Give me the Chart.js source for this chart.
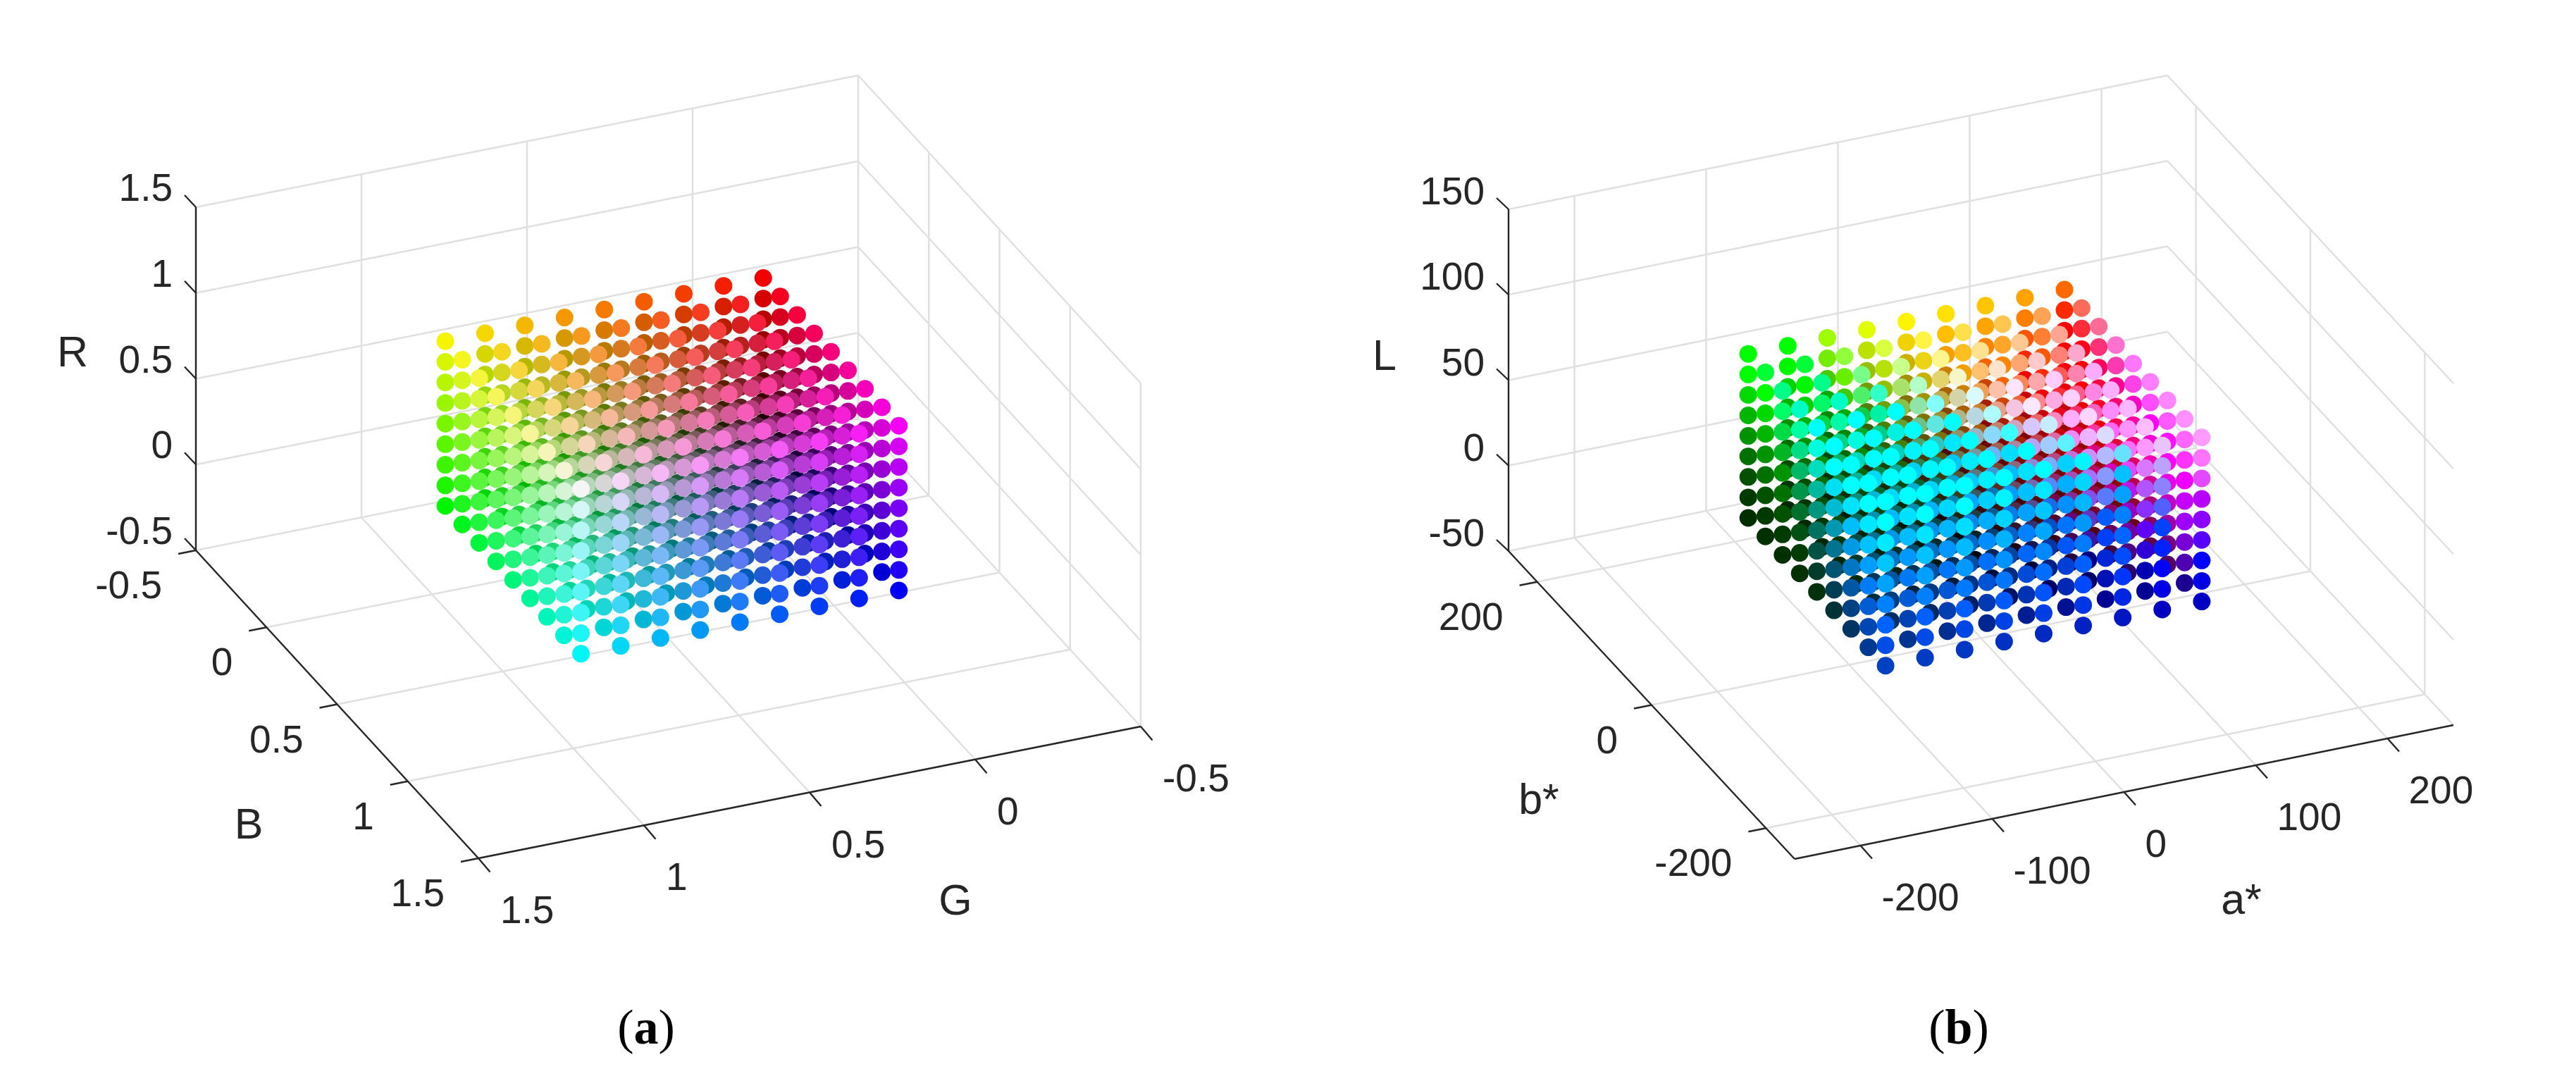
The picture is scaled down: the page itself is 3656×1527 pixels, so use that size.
<!DOCTYPE html>
<html>
<head>
<meta charset="utf-8">
<script src="https://cdn.jsdelivr.net/npm/chart.js@4/dist/chart.umd.min.js"></script>
<style>
html,body{margin:0;padding:0;background:#fff;width:3656px;height:1527px;overflow:hidden}
canvas{position:absolute;top:0}
.cap{position:absolute;top:1414px;font-family:"Liberation Serif",serif;font-size:70px;line-height:88px;color:#000;transform:translateX(-50%);white-space:nowrap}
</style>
</head>
<body>
<canvas id="panelA" width="1828" height="1527" style="left:0"></canvas>
<canvas id="panelB" width="1828" height="1527" style="left:1828px"></canvas>
<div class="cap" style="left:917px">(<b>a</b>)</div>
<div class="cap" style="left:2780px">(<b>b</b>)</div>
<script>
// ---- data ----
const rgbLevels = [0, 0.12, 0.24, 0.36, 0.48, 0.6, 0.72, 0.84, 0.96];
const labLLevels = [0, 12, 24, 36, 48, 60, 72, 84, 96];
const labALevels = [-128, -98, -68, -38, -8, 22, 52, 82, 112];
const labBLevels = [-128, -98, -68, -38, -8, 22, 52, 82, 112];

const rgbRTicks = [-0.5, 0, 0.5, 1, 1.5];
const rgbRLabels = ['-0.5', '0', '0.5', '1', '1.5'];
const rgbGTicks = [-0.5, 0, 0.5, 1, 1.5];
const rgbGLabels = ['-0.5', '0', '0.5', '1', '1.5'];
const rgbBTicks = [-0.5, 0, 0.5, 1, 1.5];
const rgbBLabels = ['-0.5', '0', '0.5', '1', '1.5'];

const labLTicks = [-50, 0, 50, 100, 150];
const labLLabels = ['-50', '0', '50', '100', '150'];
const labATicks = [-200, -100, 0, 100, 200];
const labALabels = ['-200', '-100', '0', '100', '200'];
const labBTicks = [-200, 0, 200];
const labBLabels = ['-200', '0', '200'];

// ---- colours ----
const GRID = '#e0e0e0', INK = '#262626', FONT = '"Liberation Sans", Arial, sans-serif';
function rgbCss(r, g, b) { return `rgb(${Math.round(r*255)},${Math.round(g*255)},${Math.round(b*255)})`; }
function labToCss(L, a, b) {
  const fy = (L + 16) / 116, fx = fy + a / 500, fz = fy - b / 200;
  const inv = t => t > 6/29 ? t*t*t : 3*(6/29)*(6/29)*(t - 4/29);
  const X = 0.95047*inv(fx), Y = inv(fy), Z = 1.08883*inv(fz);
  const lin = [3.2406*X - 1.5372*Y - 0.4986*Z, -0.9689*X + 1.8758*Y + 0.0415*Z, 0.0557*X - 0.2040*Y + 1.0570*Z];
  const c = lin.map(v => { v = Math.min(1, Math.max(0, v)); return v <= 0.0031308 ? 12.92*v : 1.055*Math.pow(v, 1/2.4) - 0.055; });
  return rgbCss(c[0], c[1], c[2]);
}

// ---- view geometry of each 3-D box (positions in panel units) ----
const views = {
  a: { offset: 0, left: [278, 781], front: [679, 1218], right: [1619, 1031], height: 487,
       xi: v => (1.5 - v) / 2, eta: v => (1.5 - v) / 2, zeta: v => (v + 0.5) / 2,
       xTick: [16.5, 19.5], yTick: [-25, 5], zTick: [-16, -17],
       xLab: [31, 77], yLab: [-48, 53], zLab: [-33, -24] },
  b: { offset: 1828, left: [2141, 782], front: [2547, 1219], right: [3482, 1029], height: 485,
       xi: v => (v + 250) / 500, eta: v => (v + 250) / 500, zeta: v => (v + 50) / 200,
       xTick: [16.5, 18.5], yTick: [-25, 5], zTick: [-17, -16],
       xLab: [30, 77], yLab: [-48, 53], zLab: [-34, -22] }
};
function place(view, xi, eta, zeta) {
  return {
    x: view.front[0] - view.offset + xi*(view.right[0]-view.front[0]) + eta*(view.left[0]-view.front[0]),
    y: view.front[1] + xi*(view.right[1]-view.front[1]) + eta*(view.left[1]-view.front[1]) - zeta*view.height
  };
}
const GAP = { x: NaN, y: NaN };

function buildPoints(view, xs, ys, zs, colour) {
  const pts = [];
  for (const z of zs) for (const y of ys) for (const x of xs) {
    const xi = view.xi(x), eta = view.eta(y), zeta = view.zeta(z);
    pts.push({ p: place(view, xi, eta, zeta), c: colour(x, y, z),
               d: (1 - xi) * 1 + (1 - eta) * 2.344 + zeta * 2.487 });
  }
  pts.sort((m, n) => m.d - n.d);
  return pts;
}

function buildGrid(view, xT, yT, zT) {
  const out = [];
  const seg = (a, b) => out.push(a, b, GAP);
  for (const z of zT) {
    const t = view.zeta(z);
    seg(place(view, 0, 1, t), place(view, 1, 1, t));
    seg(place(view, 1, 1, t), place(view, 1, 0, t));
  }
  for (const x of xT) {
    const t = view.xi(x);
    seg(place(view, t, 1, 0), place(view, t, 1, 1));
    seg(place(view, t, 1, 0), place(view, t, 0, 0));
  }
  for (const y of yT) {
    const t = view.eta(y);
    seg(place(view, 1, t, 0), place(view, 1, t, 1));
    seg(place(view, 1, t, 0), place(view, 0, t, 0));
  }
  return out;
}

function buildAxes(view, xT, yT, zT) {
  const out = [];
  const seg = (a, b) => out.push(a, b, GAP);
  const tick = (p, v) => seg(p, { x: p.x + v[0], y: p.y + v[1] });
  seg(place(view, 0, 1, 0), place(view, 0, 1, 1));
  seg(place(view, 0, 0, 0), place(view, 0, 1, 0));
  seg(place(view, 0, 0, 0), place(view, 1, 0, 0));
  for (const z of zT) tick(place(view, 0, 1, view.zeta(z)), view.zTick);
  for (const y of yT) tick(place(view, 0, view.eta(y), 0), view.yTick);
  for (const x of xT) tick(place(view, view.xi(x), 0, 0), view.xTick);
  return out;
}

function labelsPlugin(view, spec) {
  return {
    id: 'axisText',
    afterDraw(chart) {
      const { ctx, scales } = chart;
      const put = (txt, p, dx, dy, align, size) => {
        ctx.font = `${size}px ${FONT}`;
        ctx.fillStyle = INK;
        ctx.textAlign = align;
        ctx.textBaseline = 'middle';
        ctx.fillText(txt, scales.x.getPixelForValue(p.x) + dx, scales.y.getPixelForValue(p.y) + dy);
      };
      ctx.save();
      spec.zT.forEach((v, i) => put(spec.zL[i], place(view, 0, 1, view.zeta(v)), view.zLab[0], view.zLab[1], 'right', 55));
      spec.yT.forEach((v, i) => put(spec.yL[i], place(view, 0, view.eta(v), 0), view.yLab[0], view.yLab[1], 'right', 55));
      spec.xT.forEach((v, i) => put(spec.xL[i], place(view, view.xi(v), 0, 0), view.xLab[0], view.xLab[1], 'left', 55));
      spec.titles.forEach(t => put(t[0], { x: t[1] - view.offset, y: t[2] }, 0, 0, 'center', 61));
      ctx.restore();
    }
  };
}

function makePanel(id, view, pts, spec) {
  new Chart(document.getElementById(id), {
    type: 'scatter',
    data: { datasets: [
      { label: 'points', data: pts.map(o => o.p), pointRadius: 12.5, pointBorderWidth: 0,
        pointBackgroundColor: pts.map(o => o.c), showLine: false },
      { label: 'axes', data: buildAxes(view, spec.xT, spec.yT, spec.zT), showLine: true, pointRadius: 0,
        borderColor: INK, borderWidth: 2.4, spanGaps: false },
      { label: 'grid', data: buildGrid(view, spec.xT, spec.yT, spec.zT), showLine: true, pointRadius: 0,
        borderColor: GRID, borderWidth: 2.5, spanGaps: false }
    ] },
    options: {
      responsive: false, animation: false, devicePixelRatio: 1, events: [],
      layout: { padding: 0, autoPadding: false },
      plugins: { legend: { display: false }, tooltip: { enabled: false } },
      scales: {
        x: { type: 'linear', min: 0, max: 1828, display: false },
        y: { type: 'linear', min: 0, max: 1527, reverse: true, display: false }
      }
    },
    plugins: [labelsPlugin(view, spec)]
  });
}

makePanel('panelA', views.a,
  buildPoints(views.a, rgbLevels, rgbLevels, rgbLevels, (g, b, r) => rgbCss(r, g, b)),
  { xT: rgbGTicks, xL: rgbGLabels, yT: rgbBTicks, yL: rgbBLabels, zT: rgbRTicks, zL: rgbRLabels,
    titles: [['R', 103, 503], ['G', 1356, 1281], ['B', 353, 1173]] });

makePanel('panelB', views.b,
  buildPoints(views.b, labALevels, labBLevels, labLLevels, (a, b, L) => labToCss(L, a, b)),
  { xT: labATicks, xL: labALabels, yT: labBTicks, yL: labBLabels, zT: labLTicks, zL: labLLabels,
    titles: [['L', 1965, 508], ['a*', 3181, 1280], ['b*', 2184, 1138]] });
</script>
</body>
</html>
